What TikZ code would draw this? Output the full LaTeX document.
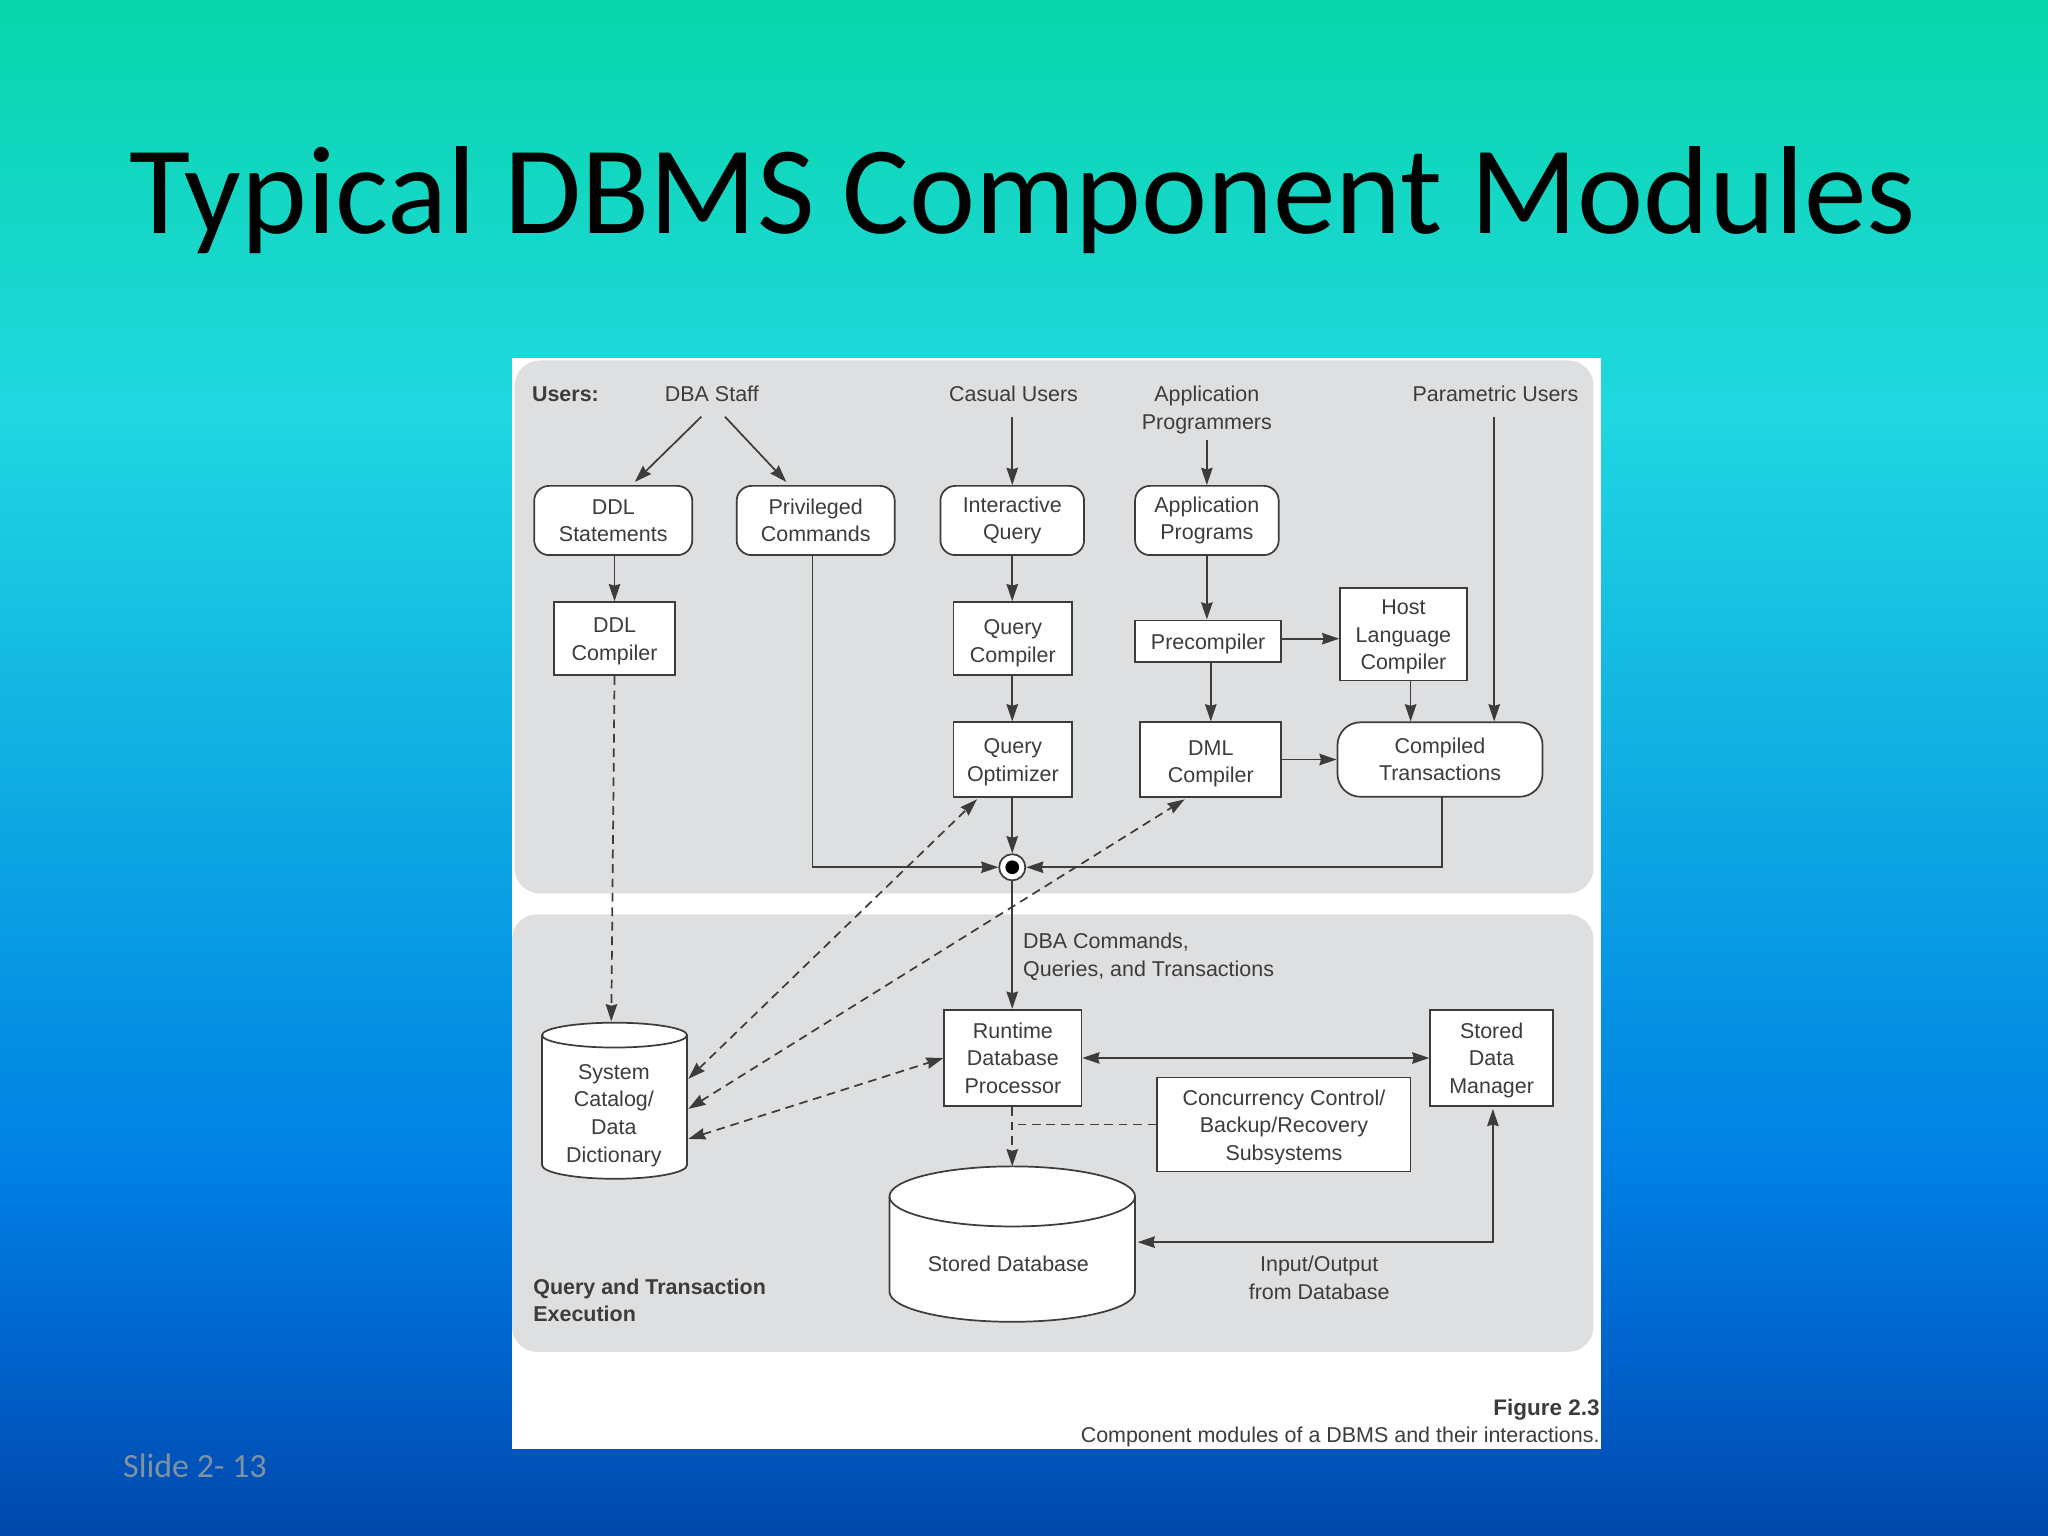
\documentclass[tikz,border=0pt]{standalone}
\usepackage{fontspec}
\setmainfont{Liberation Sans}
\newfontfamily\titlefont{Carlito}
\usetikzlibrary{arrows.meta}
\definecolor{panelgray}{RGB}{222,223,225}
\definecolor{inkgray}{RGB}{60,60,60}
\definecolor{slidegray}{RGB}{128,146,162}
\definecolor{bgA}{RGB}{0,72,172}
\definecolor{bgB}{RGB}{0,95,200}
\definecolor{bgC}{RGB}{0,128,228}
\definecolor{bgD}{RGB}{12,165,226}
\definecolor{bgE}{RGB}{32,215,225}
\definecolor{bgF}{RGB}{22,215,200}
\definecolor{bgG}{RGB}{6,214,170}
\pgfdeclareverticalshading{slidebg}{100bp}{
  color(0bp)=(bgA);
  color(25bp)=(bgA);
  color(30bp)=(bgB);
  color(37bp)=(bgC);
  color(47.5bp)=(bgD);
  color(61.5bp)=(bgE);
  color(67.5bp)=(bgF);
  color(75bp)=(bgG);
  color(100bp)=(bgG)}
\def\u{0.02cm}
\newcommand{\dnA}{\rule{0pt}{8.7pt}}
\newcommand{\dnB}{\rule{0pt}{9.2pt}}
\newcommand{\dnC}{\rule{0pt}{10.4pt}}
\tikzset{
  x=0.02cm,y=-0.02cm,
  lbl/.style={font=\fontsize{9.35}{12}\selectfont,text=inkgray,align=center,inner sep=0pt},
  lblb/.style={lbl,font=\fontsize{9.35}{12}\selectfont\bfseries,align=left},
  bx/.style={lbl,draw=inkgray,fill=white,line width=0.75pt},
  rbx/.style={bx,rounded corners=6.5pt},
  conn/.style={draw=inkgray,line width=0.75pt},
  arr/.style={conn,-{Stealth[length=7.5pt,width=5pt,inset=0.7pt]}},
  darr/.style={conn,{Stealth[length=7.5pt,width=5pt,inset=0.7pt]}-{Stealth[length=7.5pt,width=5pt,inset=0.7pt]}},
  dsh/.style={dash pattern=on 3.8pt off 2.5pt},
}
\begin{document}
\begin{tikzpicture}
\useasboundingbox (0,0) rectangle (1568,1176);
\shade[shading=slidebg] (0,0) rectangle (1568,1176);
% figure sheet
\fill[white] (392,274) rectangle (1226,1109);
\fill[panelgray,rounded corners=11pt] (394,276) rectangle (1220,684);
\fill[panelgray,rounded corners=11pt] (392,700) rectangle (1220,1035);
% title
\node[font=\titlefont\fontsize{54.6}{60}\selectfont,text=black,inner sep=0pt] (title) at (783,153) {Typical DBMS Component Modules};
\node[font=\titlefont\fontsize{14.8}{16}\selectfont,text=slidegray,inner sep=0pt,anchor=west] (slideno) at (94,1122) {Slide 2- 13};
% top labels
\node[lblb,anchor=west] (users) at (407,301.5) {Users:};
\node[lbl] (dba) at (545,301.5) {DBA Staff};
\node[lbl] (casual) at (776,301.5) {Casual Users};
\node[lbl] (appprog) at (924,314) {Application\\Programmers};
\node[lbl] (param) at (1145,301.5) {Parametric Users};
% boxes
\node[rbx,minimum width=121*\u,minimum height=53*\u] (ddlst) at (469.5,398.5) {DDL\\Statements};
\node[rbx,minimum width=121*\u,minimum height=53*\u] (priv) at (624.5,398.5) {Privileged\\Commands};
\node[rbx,minimum width=110*\u,minimum height=53*\u] (inter) at (775,398.5) {Interactive\\Query};
\node[rbx,minimum width=110*\u,minimum height=53*\u] (apps) at (924,398.5) {Application\\Programs};
\node[bx,minimum width=93*\u,minimum height=56*\u] (ddlc) at (470.5,489) {\dnA DDL\\Compiler};
\node[bx,minimum width=91*\u,minimum height=56*\u] (qc) at (775.5,489) {\dnC Query\\Compiler};
\node[bx,minimum width=91*\u,minimum height=57*\u] (qo) at (775.5,581.5) {\dnA Query\\Optimizer};
\node[bx,minimum width=112*\u,minimum height=32*\u] (pre) at (925,491) {\dnB Precompiler};
\node[bx,minimum width=97*\u,minimum height=71*\u] (host) at (1074.5,485.5) {\dnB Host\\Language\\Compiler};
\node[bx,minimum width=108*\u,minimum height=57*\u] (dml) at (927,581.5) {\dnC DML\\Compiler};
\node[rbx,rounded corners=10pt,minimum width=157*\u,minimum height=57*\u] (ct) at (1102.5,581.5) {Compiled\\Transactions};
\node[bx,minimum width=105*\u,minimum height=74*\u] (rt) at (775.5,810) {Runtime\\Database\\Processor};
\node[bx,minimum width=94*\u,minimum height=74*\u] (sdm) at (1142,810) {\dnA Stored\\Data\\Manager};
\node[bx,minimum width=194*\u,minimum height=72*\u] (cc) at (983,861) {\dnB Concurrency Control/\\Backup/Recovery\\Subsystems};
% catalog cylinder
\draw[conn,fill=white] (415,792.5) -- (415,892) arc[start angle=180,end angle=0,x radius=55.5,y radius=10.5] -- (526,792.5) arc[start angle=0,end angle=-180,x radius=55.5,y radius=9.5] -- cycle;
\draw[conn] (415,792.5) arc[start angle=180,end angle=0,x radius=55.5,y radius=9.5];
\node[lbl] (cat) at (470,854) {System\\Catalog/\\Data\\Dictionary};
% stored db cylinder
\draw[conn,fill=white] (681,916) -- (681,989) arc[start angle=180,end angle=0,x radius=94,y radius=23] -- (869,916) arc[start angle=0,end angle=-180,x radius=94,y radius=23] -- cycle;
\draw[conn] (681,916) arc[start angle=180,end angle=0,x radius=94,y radius=23];
\node[lbl] (sdb) at (772,967.5) {Stored Database};
% connector ends
\coordinate (dbaL) at (537,319);
\coordinate (dbaR) at (555,319);
\coordinate (ddlT) at (486,369);
\coordinate (privT) at (602,369);
\coordinate (casB) at (775,319);
\coordinate (progB) at (924,337);
\coordinate (parB) at (1144,319);
\coordinate (catT) at (468,782);
\coordinate (catA) at (527,826);
\coordinate (catB) at (527,849);
\coordinate (catC) at (527,872);
\coordinate (qoD) at (748,612);
\coordinate (dmlD) at (907,612);
\coordinate (dbT) at (775,893);
\coordinate (dbE) at (871,951);
\coordinate (sdmB) at (1143,849);
\coordinate (sdmC) at (1143,951);
\coordinate (dashJ) at (775,860);
\coordinate (privB) at (622,425);
\coordinate (privC) at (622,664);
\coordinate (ctB) at (1104,610);
\coordinate (ctC) at (1104,664);
\coordinate (hostB) at (1080,521);
\coordinate (preE) at (981,489);
% junction
\node[circle,draw=inkgray,fill=white,line width=0.75pt,minimum size=20*\u,inner sep=0pt] (junc) at (775,664) {};
% dashed connectors
\draw[arr,dsh] (ddlc.south) -- (catT);
\draw[darr,dsh] (catA) -- (qoD);
\draw[darr,dsh] (catB) -- (dmlD);
\draw[darr,dsh] (catC) -- (rt.west);
\draw[arr,dsh] (rt.south -| dbT) -- (dbT);
\draw[conn,dsh] (cc.west) -- (cc.west -| dashJ);
% solid connectors
\draw[arr] (dbaL) -- (ddlT);
\draw[arr] (dbaR) -- (privT);
\draw[arr] (casB) -- (inter.north);
\draw[arr] (progB) -- (apps.north);
\draw[arr] (ddlst.south -| ddlc.north) -- (ddlc.north);
\draw[arr] (inter.south) -- (inter.south |- qc.north);
\draw[arr] (qc.south -| inter.south) -- (qo.north -| inter.south);
\draw[arr] (qo.south -| junc.north) -- (junc.north);
\draw[arr] (junc.south) -- (rt.north -| junc.south);
\draw[arr] (apps.south) -- (pre.north -| apps.south);
\draw[arr] (pre.south -| dml.north) -- (dml.north);
\draw[arr] (preE) -- (preE -| host.west);
\draw[arr] (hostB) -- (hostB |- ct.north);
\draw[arr] (parB) -- (parB |- ct.north);
\draw[arr] (dml.east) -- (ct.west);
\draw[arr] (privB) -- (privC) -- (junc.west);
\draw[arr] (ctB) -- (ctC) -- (junc.east);
\draw[darr] (rt.east |- sdm.west) -- (sdm.west);
\draw[darr] (dbE) -- (sdmC) -- (sdmB);
% junction dot
\node[circle,fill=black,minimum size=10.5*\u,inner sep=0pt] (jdot) at (775,664) {};
% other labels
\node[lbl,align=left,anchor=west] (cmds) at (783,732.5) {DBA Commands,\\Queries, and Transactions};
\node[lbl] (io) at (1010,978.5) {Input/Output\\from Database};
\node[lblb,anchor=west] (qte) at (408,995.5) {Query and Transaction\\Execution};
\node[lblb,anchor=east,align=right,font=\fontsize{9.8}{12}\selectfont\bfseries] (fig) at (1225,1079) {Figure 2.3};
\node[lbl,anchor=east,align=right] (cap) at (1225,1100.5) {Component modules of a DBMS and their interactions.};
\end{tikzpicture}
\end{document}
